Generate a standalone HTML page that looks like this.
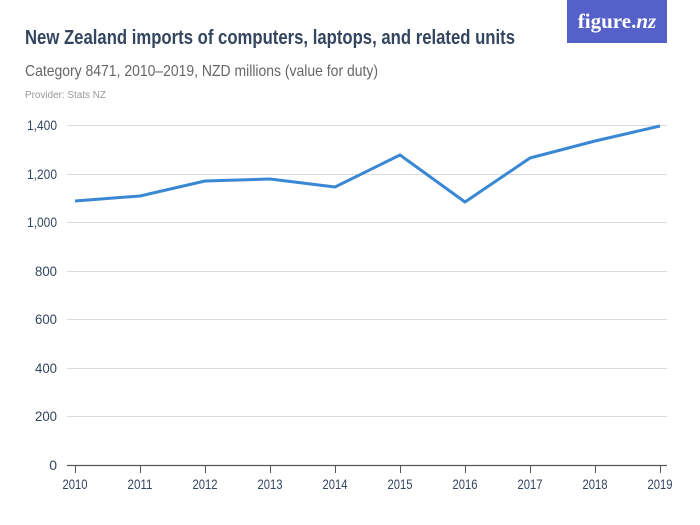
<!DOCTYPE html>
<html><head><meta charset="utf-8"><style>
body{margin:0;background:#fff;}
svg{display:block;font-family:"Liberation Sans",sans-serif;}
</style></head><body>
<svg width="700" height="525" viewBox="0 0 700 525" xmlns="http://www.w3.org/2000/svg">
<rect x="567" y="0" width="100" height="43" fill="#5560c8"/>
<text x="617" y="28" font-family="Liberation Serif,serif" font-size="21" font-weight="bold" fill="#fff" text-anchor="middle">figure.<tspan font-style="italic">nz</tspan></text>
<text x="25" y="44" font-size="20" font-weight="bold" fill="#34455f" textLength="490" lengthAdjust="spacingAndGlyphs">New Zealand imports of computers, laptops, and related units</text>
<text x="25" y="76" font-size="16" fill="#666" textLength="353" lengthAdjust="spacingAndGlyphs">Category 8471, 2010–2019, NZD millions (value for duty)</text>
<text x="25" y="98" font-size="10" fill="#999" textLength="81" lengthAdjust="spacingAndGlyphs">Provider: Stats NZ</text>
<g stroke="#dcdcdc" stroke-width="1">
<line x1="67" x2="667" y1="125.5" y2="125.5"/>
<line x1="67" x2="667" y1="174.5" y2="174.5"/>
<line x1="67" x2="667" y1="222.5" y2="222.5"/>
<line x1="67" x2="667" y1="271.5" y2="271.5"/>
<line x1="67" x2="667" y1="319.5" y2="319.5"/>
<line x1="67" x2="667" y1="368.5" y2="368.5"/>
<line x1="67" x2="667" y1="416.5" y2="416.5"/>
</g>
<g font-size="14" fill="#34455f" text-anchor="end">
<text x="57" y="130" textLength="30" lengthAdjust="spacingAndGlyphs">1,400</text>
<text x="57" y="179" textLength="30" lengthAdjust="spacingAndGlyphs">1,200</text>
<text x="57" y="227" textLength="30" lengthAdjust="spacingAndGlyphs">1,000</text>
<text x="57" y="276" textLength="22" lengthAdjust="spacingAndGlyphs">800</text>
<text x="57" y="324" textLength="22" lengthAdjust="spacingAndGlyphs">600</text>
<text x="57" y="373" textLength="22" lengthAdjust="spacingAndGlyphs">400</text>
<text x="57" y="421" textLength="22" lengthAdjust="spacingAndGlyphs">200</text>
<text x="57" y="470">0</text>
</g>
<line x1="67" x2="667" y1="465.5" y2="465.5" stroke="#555" stroke-width="1.2"/>
<g stroke="#555" stroke-width="1">
<line x1="75.5" x2="75.5" y1="466" y2="473"/><line x1="140.5" x2="140.5" y1="466" y2="473"/>
<line x1="205.5" x2="205.5" y1="466" y2="473"/><line x1="270.5" x2="270.5" y1="466" y2="473"/>
<line x1="335.5" x2="335.5" y1="466" y2="473"/><line x1="400.5" x2="400.5" y1="466" y2="473"/>
<line x1="465.5" x2="465.5" y1="466" y2="473"/><line x1="530.5" x2="530.5" y1="466" y2="473"/>
<line x1="595.5" x2="595.5" y1="466" y2="473"/><line x1="660.5" x2="660.5" y1="466" y2="473"/>
</g>
<g font-size="14" fill="#34455f" text-anchor="middle">
<text x="75" y="489" textLength="25" lengthAdjust="spacingAndGlyphs">2010</text><text x="140" y="489" textLength="25" lengthAdjust="spacingAndGlyphs">2011</text><text x="205" y="489" textLength="25" lengthAdjust="spacingAndGlyphs">2012</text>
<text x="270" y="489" textLength="25" lengthAdjust="spacingAndGlyphs">2013</text><text x="335" y="489" textLength="25" lengthAdjust="spacingAndGlyphs">2014</text><text x="400" y="489" textLength="25" lengthAdjust="spacingAndGlyphs">2015</text>
<text x="465" y="489" textLength="25" lengthAdjust="spacingAndGlyphs">2016</text><text x="530" y="489" textLength="25" lengthAdjust="spacingAndGlyphs">2017</text><text x="595" y="489" textLength="25" lengthAdjust="spacingAndGlyphs">2018</text>
<text x="660" y="489" textLength="25" lengthAdjust="spacingAndGlyphs">2019</text>
</g>
<polyline fill="none" stroke="#3a88d4" stroke-width="3" stroke-linejoin="round" points="75,201 140,196 205,181 270,179 335,187 400,155 465,202 530,158 595,141 660,126"/>
</svg>
</body></html>
